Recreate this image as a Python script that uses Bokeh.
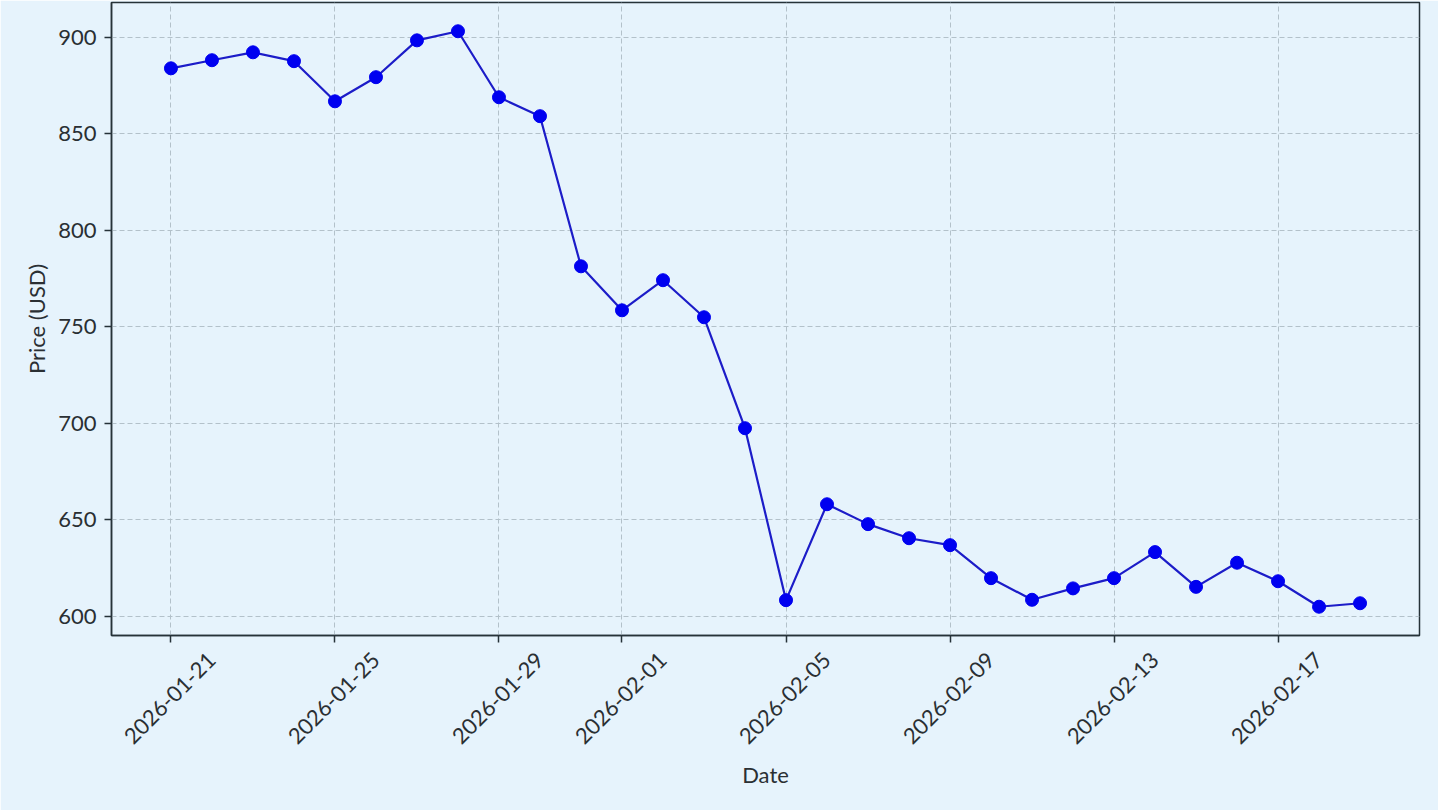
import math
import pandas as pd
from bokeh.plotting import figure
from bokeh.models import (Range1d, DaysTicker, SingleIntervalTicker, FixedTicker,
                          CustomJSTickFormatter, DatetimeAxis)
from bokeh.embed import file_html
from bokeh.resources import INLINE

dates = pd.date_range("2026-01-21", "2026-02-19", freq="D")
prices = [883.9, 888.1, 892.2, 887.6, 866.8, 879.3, 898.4, 903.1, 868.9, 859.1,
          781.3, 758.5, 774.1, 754.9, 697.4, 608.3, 658.0, 647.7, 640.4, 636.8,
          619.7, 608.5, 614.4, 619.7, 633.2, 615.2, 627.7, 618.1, 604.9, 606.7]
tick_days = [1, 5, 9, 13, 17, 21, 25, 29]
x_label = "Date"
y_label = "Price (USD)"

FONT = "Lato"
FSIZE = "22px"
BG = "#e6f3fc"
DARK = "#263238"
TXT = "#2a2f33"

span = dates[-1] - dates[0]
pad = span * 0.05
ymin, ymax = min(prices), max(prices)
ypad = (ymax - ymin) * 0.05

p = figure(width=1438, height=810, x_axis_type="datetime",
           output_backend="svg", toolbar_location=None,
           x_range=Range1d(dates[0] - pad, dates[-1] + pad),
           y_range=Range1d(ymin - ypad, ymax + ypad),
           min_border_left=111, min_border_right=19, min_border_top=2, min_border_bottom=175,
           background_fill_color=BG, border_fill_color=BG)

p.line(dates, prices, line_color="#1c1cc8", line_width=2.2)
p.scatter(dates, prices, size=13, fill_color="#0000f0", line_color="#0000f0")

p.outline_line_color = DARK
p.outline_line_width = 1.5

p.xaxis.ticker = DaysTicker(days=tick_days)
p.xaxis.formatter = CustomJSTickFormatter(code="return ''")
p.xaxis.major_label_text_font_size = "1px"
p.xaxis.major_label_standoff = 0
p.yaxis.ticker = SingleIntervalTicker(interval=50)

for ax in (p.xaxis, p.yaxis):
    ax.axis_line_color = DARK
    ax.axis_line_width = 1.5
    ax.major_tick_line_color = DARK
    ax.major_tick_line_width = 1.5
    ax.major_tick_out = 7
    ax.major_tick_in = 0
    ax.minor_tick_line_color = None

p.yaxis.major_label_text_font = FONT
p.yaxis.major_label_text_font_size = FSIZE
p.yaxis.major_label_text_color = TXT
p.yaxis.major_label_standoff = 8

# date labels, rotated 45 degrees and centred on their ticks (matplotlib style):
# a label axis whose ticks sit one day later, its text shows the real tick date
DAY_MS = 86400000
tick_dates = [d for d in dates if d.day in tick_days]
label_ticks = [d.value / 1e6 + DAY_MS for d in tick_dates]
lab_axis = DatetimeAxis(
    ticker=FixedTicker(ticks=label_ticks, minor_ticks=[]),
    formatter=CustomJSTickFormatter(
        args=dict(shift=DAY_MS),
        code="return new Date(tick - shift).toISOString().slice(0, 10)"),
    major_label_orientation=math.pi / 4,
    major_label_standoff=14,
    axis_line_color=None, major_tick_line_color=None, minor_tick_line_color=None,
    major_tick_out=0, major_tick_in=0,
    major_label_text_font=FONT, major_label_text_font_size=FSIZE,
    major_label_text_color=TXT)
p.add_layout(lab_axis, "below")

for ax in (lab_axis, p.yaxis[0]):
    ax.axis_label_text_font = FONT
    ax.axis_label_text_font_size = FSIZE
    ax.axis_label_text_font_style = "normal"
    ax.axis_label_text_color = TXT
lab_axis.axis_label = x_label
lab_axis.axis_label_standoff = 7
p.yaxis.axis_label = y_label

for g in (p.xgrid, p.ygrid):
    g.grid_line_color = "#b3c1ca"
    g.grid_line_dash = "5 3"
    g.grid_line_width = 1

open("out.html", "w").write(file_html(p, INLINE))
